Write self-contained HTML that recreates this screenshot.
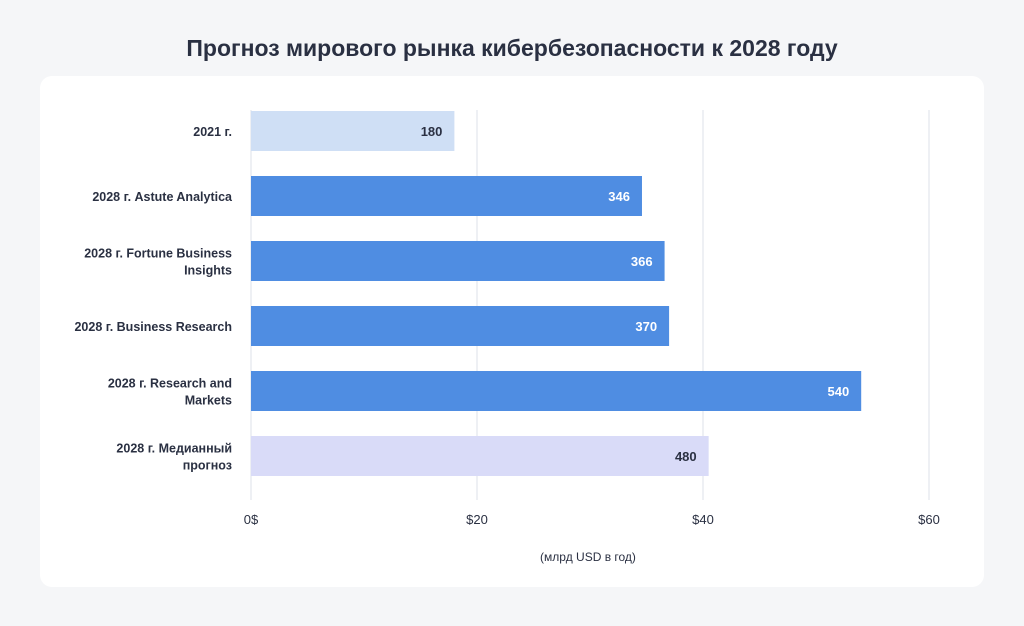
<!DOCTYPE html>
<html><head><meta charset="utf-8"><style>
body{margin:0;width:1024px;height:621px;background:#f5f6f8;font-family:"Liberation Sans",sans-serif;overflow:hidden}
</style></head><body>
<svg width="1024" height="621">
<text x="512" y="56" text-anchor="middle" font-size="23" font-weight="bold" fill="#2a3042">Прогноз мирового рынка кибербезопасности к 2028 году</text>
<rect x="40" y="76" width="944" height="511" rx="12" fill="#fff"/>
<g id="grid"></g><g id="bars"></g><g id="ticks"></g>
<text x="588" y="561" text-anchor="middle" font-size="12" fill="#2a3042">(млрд USD в год)</text>
</svg>
<script>
const categories=[["2021 г."],["2028 г. Astute Analytica"],["2028 г. Fortune Business","Insights"],["2028 г. Business Research"],["2028 г. Research and","Markets"],["2028 г. Медианный","прогноз"]];
const values=[18.0,34.6,36.6,37.0,54.0,40.5];
const valueLabels=["180","346","366","370","540","480"];
const tickValues=[0,20,40,60];
const tickLabels=["0$","$20","$40","$60"];
const colors=["#cfdff5","#4f8de2","#4f8de2","#4f8de2","#4f8de2","#d9dbf8"];
const NS="http://www.w3.org/2000/svg";
const x=v=>251+v*(929-251)/60;
const yc=i=>131+i*65;
function mk(t,a,p){const e=document.createElementNS(NS,t);for(const k in a)e.setAttribute(k,a[k]);p.appendChild(e);return e;}
const g=document.getElementById('grid'),b=document.getElementById('bars'),tk=document.getElementById('ticks');
tickValues.forEach((v,i)=>{
 const l=mk('line',{x1:x(v),x2:x(v),y1:110,y2:500,stroke:'#dde1ea','stroke-width':1},g);
 
 
 const t=mk('text',{x:x(v),y:524,'text-anchor':'middle','font-size':13,fill:'#2a3042'},tk);
 t.textContent=tickLabels[i];
 
 
});
values.forEach((v,i)=>{
 const r=mk('rect',{x:x(0),y:yc(i)-20,width:x(v)-x(0),height:40,fill:colors[i]},b);
 
 
 const dark=colors[i]==="#4f8de2";
 const t=mk('text',{x:x(v)-12,y:yc(i)+5,'text-anchor':'end','font-size':13,'font-weight':'bold',fill:dark?'#fff':'#2a3042'},b);
 t.textContent=valueLabels[i];
 
 
 const lines=categories[i];
 lines.forEach((s,j)=>{
  const c=mk('text',{x:232,y:yc(i)+5+(j-(lines.length-1)/2)*17,'text-anchor':'end','font-size':12.5,'font-weight':'bold',fill:'#2a3042'},b);
  c.textContent=s;
  
  
 });
});
</script>
</body></html>
